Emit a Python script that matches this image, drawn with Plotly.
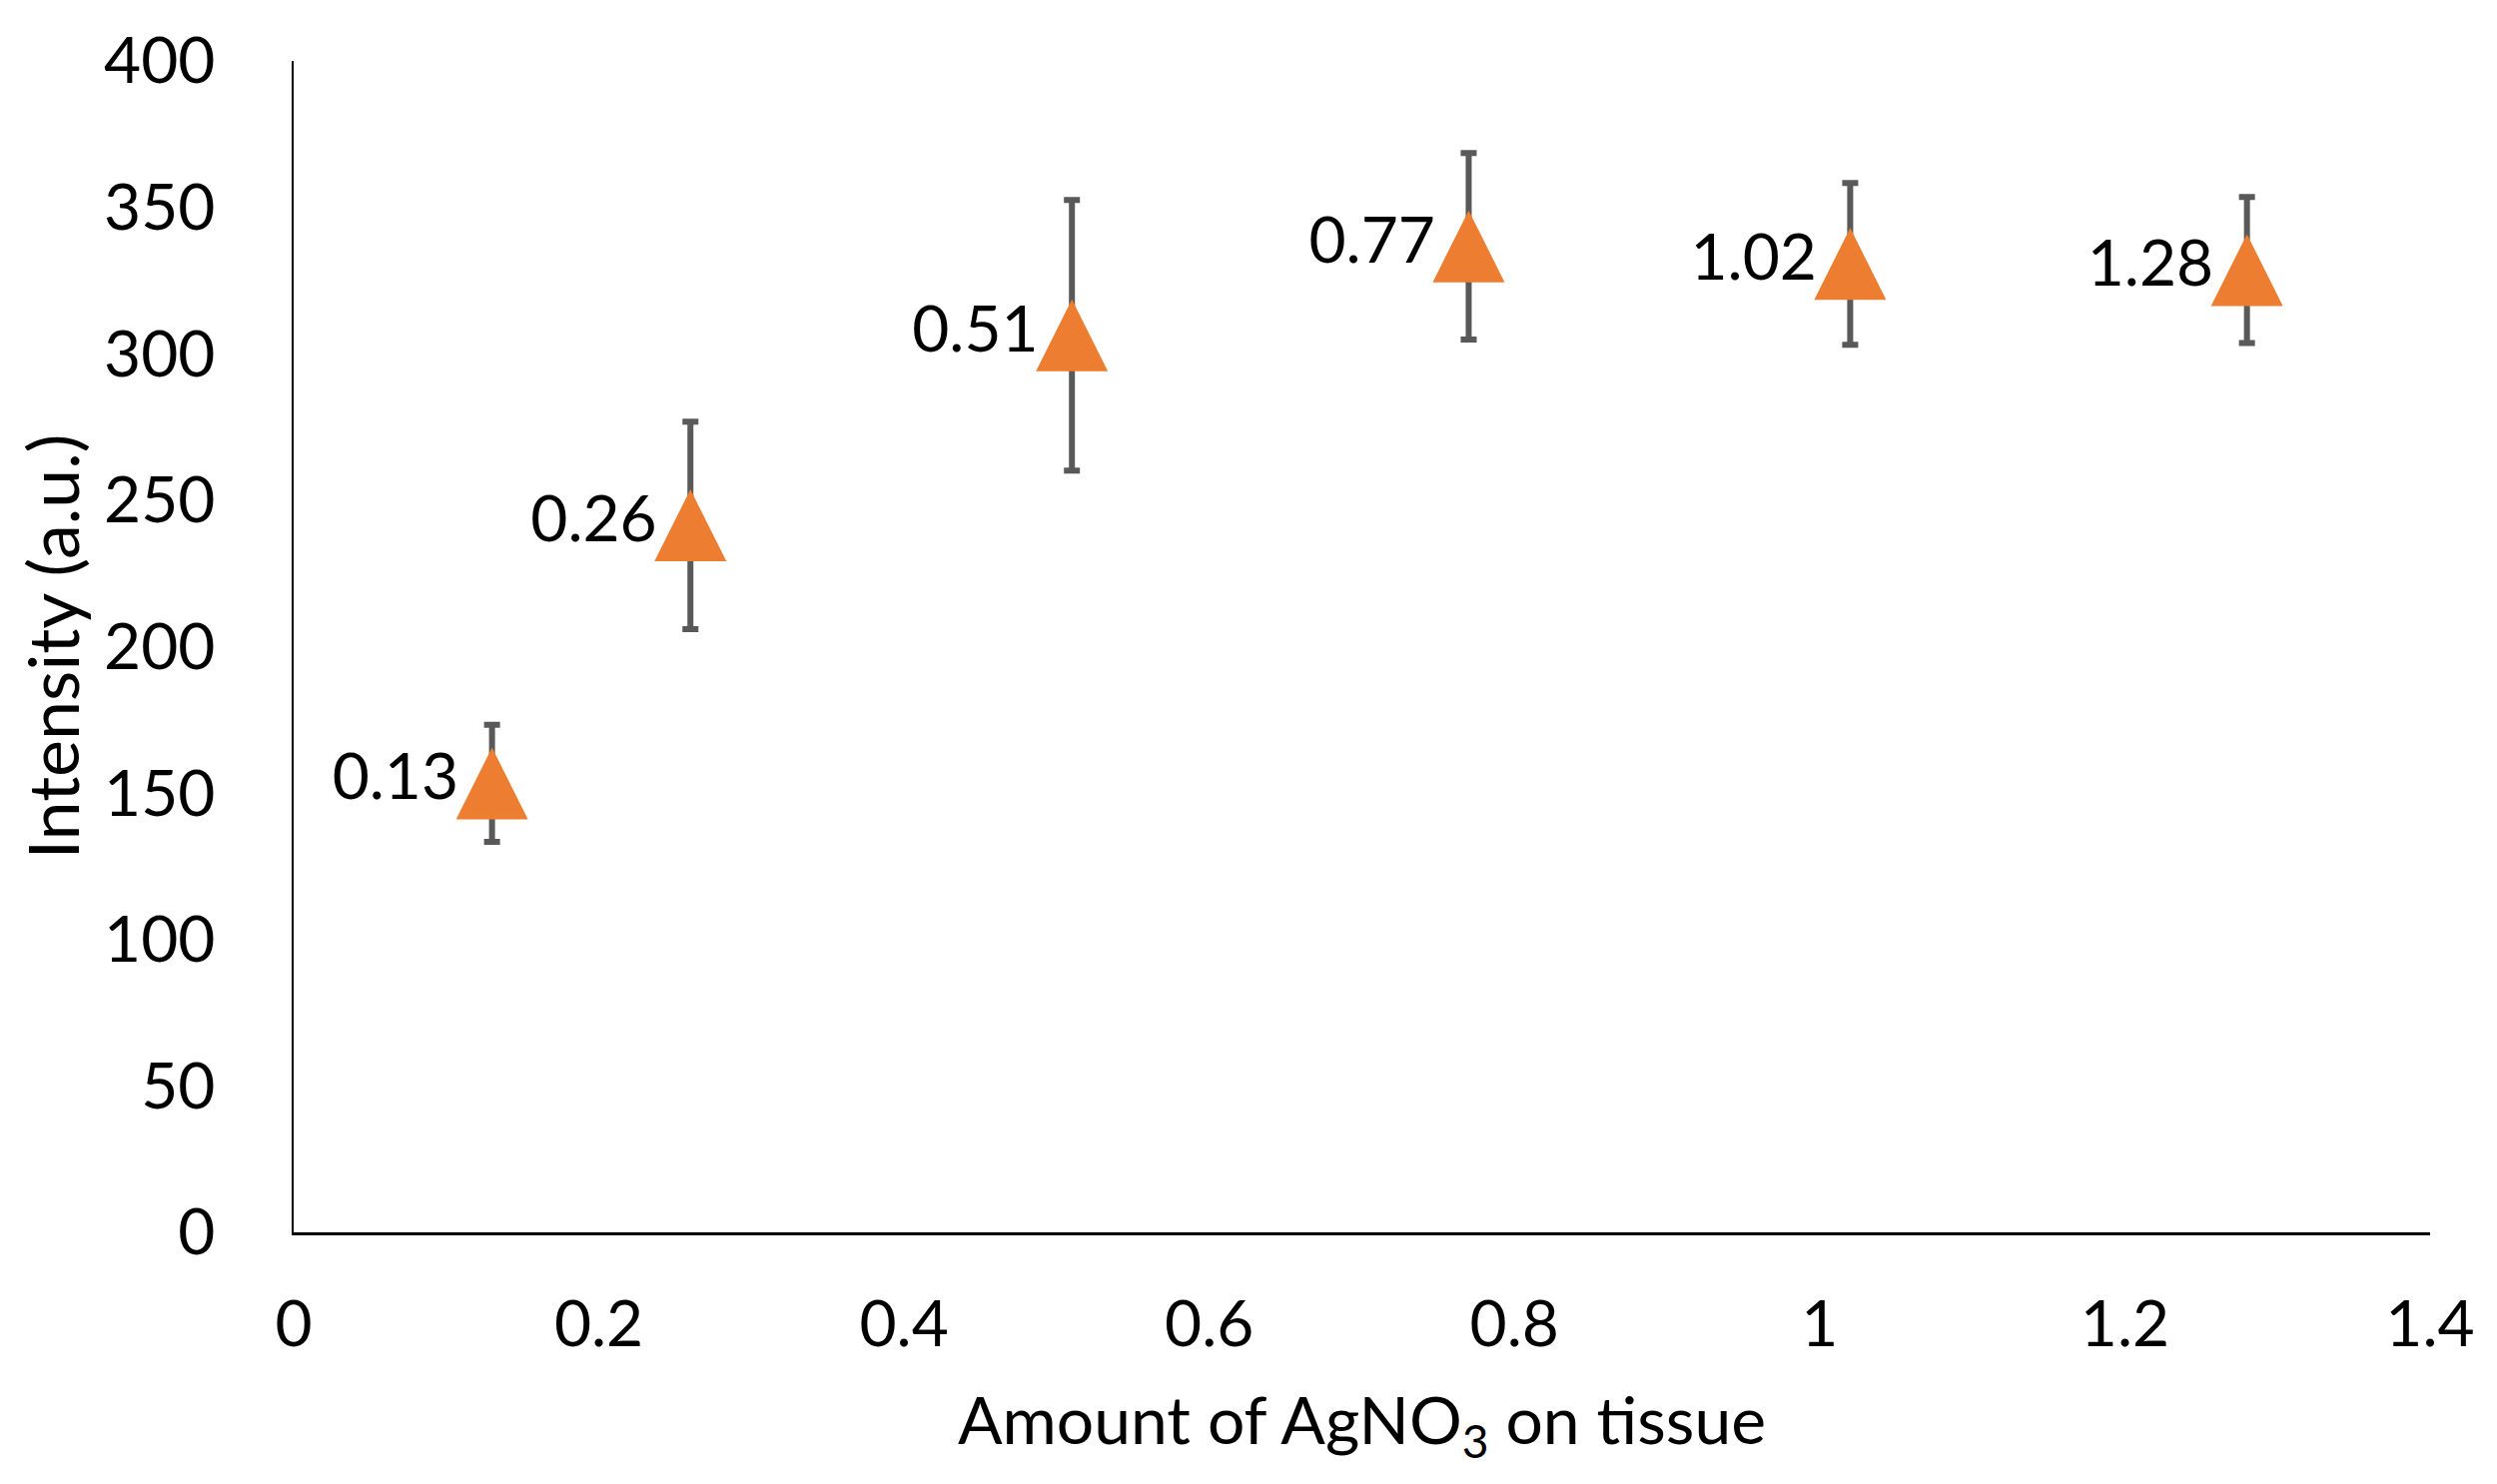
import plotly.graph_objects as go

# Data
agno3_amount = [0.13, 0.26, 0.51, 0.77, 1.02, 1.28]
intensity = [153.3, 241.4, 306.3, 336.7, 330.7, 328.6]
intensity_err = [20.0, 35.4, 46.2, 31.8, 27.6, 24.9]
point_labels = ["0.13", "0.26", "0.51", "0.77", "1.02", "1.28"]
x_ticks = [0, 0.2, 0.4, 0.6, 0.8, 1.0, 1.2, 1.4]
x_tick_labels = ["0", "0.2", "0.4", "0.6", "0.8", "1", "1.2", "1.4"]
y_ticks = [0, 50, 100, 150, 200, 250, 300, 350, 400]
y_tick_labels = ["0", "50", "100", "150", "200", "250", "300", "350", "400"]

FONT = "Lato"
MSIZE = 72

fig = go.Figure()
# markers with error bars
fig.add_trace(go.Scatter(
    x=agno3_amount,
    y=intensity,
    mode="markers",
    marker=dict(symbol="arrow-down", angle=180, standoff=MSIZE / 2,
                size=MSIZE, color="#ED7D31", line=dict(width=0)),
    error_y=dict(type="data", array=intensity_err, visible=True,
                 color="#595959", thickness=6, width=8),
    showlegend=False,
    cliponaxis=False,
    hoverinfo="skip",
))
# data labels
fig.add_trace(go.Scatter(
    x=agno3_amount,
    y=intensity,
    mode="markers+text",
    text=point_labels,
    textposition="middle left",
    textfont=dict(family=FONT, size=64, color="#000000"),
    marker=dict(size=52, opacity=0),
    showlegend=False,
    cliponaxis=False,
    hoverinfo="skip",
))

fig.update_layout(
    width=2500, height=1486,
    margin=dict(l=286, r=75, t=45, b=260),
    paper_bgcolor="white", plot_bgcolor="white",
    font=dict(family=FONT, color="#000000"),
    xaxis=dict(
        range=[0, 1.4], tickvals=x_ticks, ticktext=x_tick_labels,
        showgrid=False, zeroline=False, showline=True,
        linecolor="#000000", linewidth=2.5, ticks="",
        tickfont=dict(family=FONT, size=64, color="#000000"),
        ticklabelstandoff=34,
        title=dict(text="Amount of AgNO<sub>3</sub> on tissue",
                   font=dict(family=FONT, size=66, color="#000000"),
                   standoff=40),
    ),
    yaxis=dict(
        range=[0, 400], tickvals=y_ticks, ticktext=y_tick_labels,
        showgrid=False, zeroline=False, showline=True,
        linecolor="#000000", linewidth=1.5, ticks="",
        tickfont=dict(family=FONT, size=64, color="#000000"),
        ticklabelstandoff=64,
        title=dict(text="Intensity (a.u.)",
                   font=dict(family=FONT, size=70, color="#000000"),
                   standoff=2),
    ),
)

fig.write_html("out.html")
